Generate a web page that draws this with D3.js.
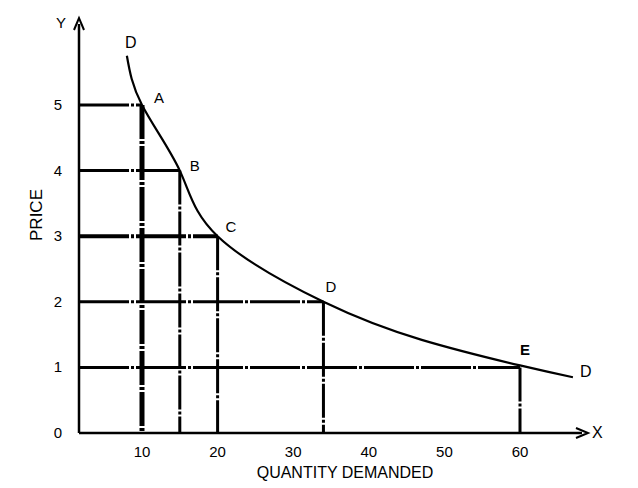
<!DOCTYPE html><html><head><script src="https://cdn.jsdelivr.net/npm/d3@7"></script>
<style>body{margin:0;background:#fff}text{font-family:"Liberation Sans",Arial,sans-serif;fill:#000}</style></head><body>
<svg id="c" width="638" height="488"></svg>
<script>
const xTicks=[10,20,30,40,50,60];
const yTicks=[0,1,2,3,4,5];
const pointLabels=["A","B","C","D","E"];
const qty=[10,15,20,34,60];
const price=[5,4,3,2,1];
const curveQ=[8,10,15,20,34,47,60,67];
const curveP=[5.75,5,4,3,2,1.42,1.03,0.85];
const svg=d3.select("#c");
const x=d3.scaleLinear().domain([0,60]).range([66.4,520]);
const y=d3.scaleLinear().domain([0,5]).range([433,105]);
const ax=79, ay=433;
const g=svg.append("g").attr("stroke","#000");
qty.forEach((q,i)=>{
 g.append("line").attr("x1",ax).attr("x2",x(q)).attr("y1",y(price[i])).attr("y2",y(price[i]))
  .attr("stroke-width",i==2?4:3).attr("stroke-dasharray","50,2,3,2");
 g.append("line").attr("x1",x(q)).attr("x2",x(q)).attr("y1",y(price[i])).attr("y2",ay)
  .attr("stroke-width",i==0?5:3).attr("stroke-dasharray","34,2,3,2");
});
svg.append("line").attr("x1",ax).attr("x2",ax).attr("y1",ay).attr("y2",24).attr("stroke","#000").attr("stroke-width",2.5);
svg.append("line").attr("x1",ax).attr("x2",582).attr("y1",ay).attr("y2",ay).attr("stroke","#000").attr("stroke-width",2.5);
svg.append("path").attr("d",`M${ax-5},30L${ax},18L${ax+5},30`).attr("fill","none").attr("stroke","#000").attr("stroke-width",2);
svg.append("path").attr("d",`M576,${ay-5}L588,${ay}L576,${ay+5}`).attr("fill","none").attr("stroke","#000").attr("stroke-width",2);
xTicks.forEach(t=>{svg.append("text").attr("x",x(t)).attr("y",457).attr("text-anchor","middle").attr("font-size",15).text(t);});
yTicks.forEach(t=>{svg.append("text").attr("x",62).attr("y",y(t)+5).attr("text-anchor","end").attr("font-size",15).text(t);});
svg.append("text").attr("x",56).attr("y",28).attr("font-size",15).text("Y");
svg.append("text").attr("x",592).attr("y",438).attr("font-size",16).text("X");
svg.append("text").attr("transform","translate(42,215) rotate(-90)").attr("text-anchor","middle").attr("font-size",17).text("PRICE");
svg.append("text").attr("x",345).attr("y",478).attr("text-anchor","middle").attr("font-size",16).text("QUANTITY DEMANDED");
const pts=curveQ.map((q,i)=>[x(q),y(curveP[i])]);
svg.append("path").attr("d",d3.line().curve(d3.curveNatural)(pts)).attr("fill","none").attr("stroke","#000").attr("stroke-width",2.2);
svg.append("text").attr("x",125).attr("y",48).attr("font-size",16).text("D");
svg.append("text").attr("x",580).attr("y",377).attr("font-size",16).text("D");
const off=[[12,-2],[10,0],[8,-4],[2,-10],[0,-12]];
qty.forEach((q,i)=>svg.append("text").attr("x",x(q)+off[i][0]).attr("y",y(price[i])+off[i][1]).attr("font-size",15).attr("font-weight",i==4?"bold":"normal").text(pointLabels[i]));
</script></body></html>
